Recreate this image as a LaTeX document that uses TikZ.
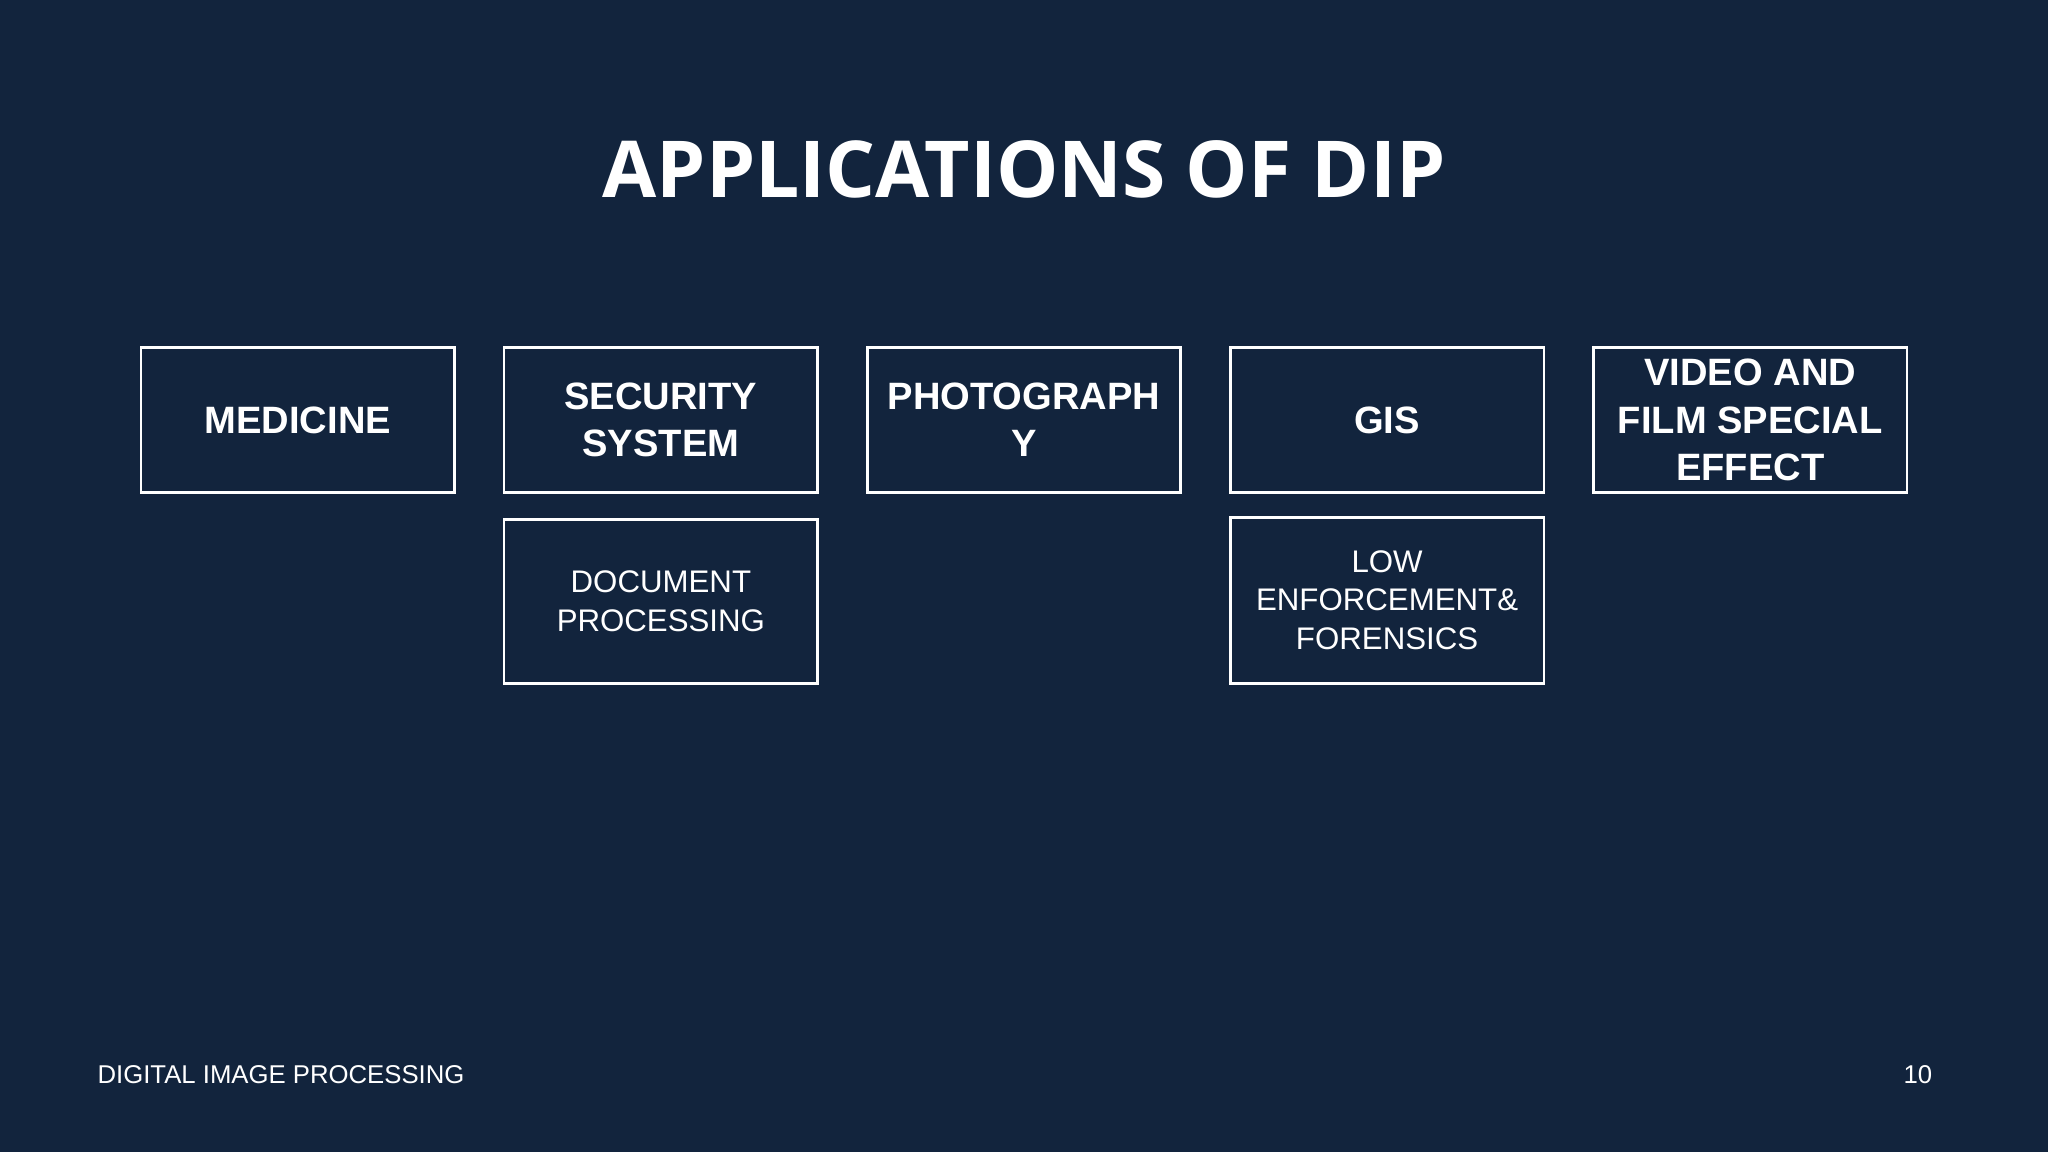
\documentclass[tikz,border=0pt]{standalone}
\usepackage{fontspec}
\setmainfont{Liberation Sans}
\newfontfamily\titlefont{Open Sans}
\definecolor{bg}{HTML}{12243D}
\begin{document}
\begin{tikzpicture}[x=0.01cm,y=-0.01cm,
  box/.style={draw=white,line width=0.6pt,minimum width=2.4cm,minimum height=1.11cm,inner sep=0pt,align=center,text=white},
  bold/.style={font=\fontsize{8.3pt}{10.3pt}\selectfont\bfseries},
  reg/.style={font=\fontsize{6.8pt}{8.4pt}\selectfont}]
\fill[bg] (0,0) rectangle (1568,882);
\useasboundingbox (0,0) rectangle (1568,882);
\node[text=white,font=\titlefont\fontsize{17.1pt}{20pt}\selectfont\bfseries] (title) at (784,130) {APPLICATIONS OF DIP};
\node[box,bold] (med) at (228,321.5) {MEDICINE};
\node[box,bold] (sec) at (506,321.5) {SECURITY\\SYSTEM};
\node[box,bold] (pho) at (784,321.5) {PHOTOGRAPH\\Y};
\node[box,bold] (gis) at (1062,321.5) {GIS};
\node[box,bold] (vid) at (1340,321.5) {VIDEO AND\\FILM SPECIAL\\EFFECT};
\node[box,reg,minimum height=1.25cm] (doc) at (506,460.5) {DOCUMENT\\PROCESSING};
\node[box,reg,minimum height=1.27cm] (low) at (1062,459.5) {LOW\\ENFORCEMENT\&\\FORENSICS};
\node[text=white,anchor=west,inner sep=0pt,font=\fontsize{5.6pt}{7pt}\selectfont] (foot) at (74,823) {DIGITAL IMAGE PROCESSING};
\node[text=white,anchor=east,inner sep=0pt,font=\fontsize{5.6pt}{7pt}\selectfont] (num) at (1480,823) {10};
\end{tikzpicture}
\end{document}
